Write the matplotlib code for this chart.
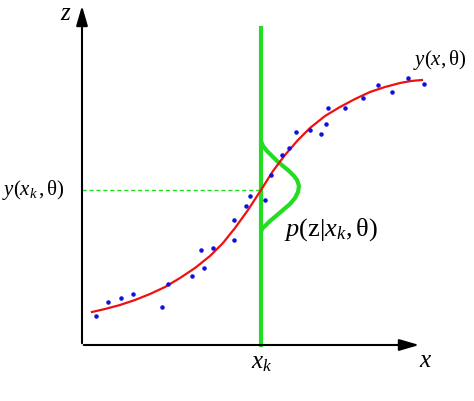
import matplotlib
matplotlib.use("Agg")
import matplotlib.pyplot as plt

plt.rcParams["font.family"] = ["Liberation Serif", "DejaVu Serif"]
plt.rcParams["mathtext.fontset"] = "custom"
plt.rcParams["mathtext.rm"] = "Liberation Serif"
plt.rcParams["mathtext.it"] = "Liberation Serif:italic"

# picture coordinates (pixels, y downwards)
dots_x = [96, 108, 121, 133, 162, 168, 192, 204, 201, 213, 234, 234, 246, 250,
          265, 271, 282, 289, 296, 310, 321, 328, 326, 345, 363, 378, 392, 408, 424]
dots_y = [316, 302, 298, 294, 307, 284, 276, 268, 250, 248, 240, 220, 206, 196,
          200, 175, 155, 148, 132, 130, 134, 108, 124, 108, 98, 85, 92, 78, 84]
curve_x = [92, 105, 120, 135, 150, 165, 180, 195, 210, 223, 235, 248, 261,
           273, 285, 298, 310, 325, 340, 355, 370, 385, 400, 411, 422]
curve_y = [312, 309, 305, 300, 294, 287, 278, 268, 256, 243, 228, 210, 190,
           171, 155, 140, 128, 116, 107, 99, 92, 87, 83, 81, 80]
bump_x = [261, 263, 267, 272, 277, 283, 289, 294, 297, 299, 298, 295, 290, 283, 276, 270, 265, 262, 261]
bump_y = [141, 146, 151, 156, 161, 166, 171, 176, 180, 186, 192, 198, 204, 210, 216, 221, 226, 229, 232]
x_k, y_k = 261, 190

fig = plt.figure(figsize=(4.74, 4.01), dpi=100)
ax = fig.add_axes([0, 0, 1, 1])
ax.set_xlim(0, 474)
ax.set_ylim(401, 0)
ax.axis("off")

ax.annotate("", xy=(82, 3), xytext=(82, 346),
            arrowprops=dict(arrowstyle="-|>,head_width=0.35,head_length=1.2", color="black", lw=1.5))
ax.annotate("", xy=(422, 345), xytext=(81, 345),
            arrowprops=dict(arrowstyle="-|>,head_width=0.35,head_length=1.2", color="black", lw=1.5))

ax.plot([x_k, x_k], [28, 345], color="#22dd22", lw=3)
ax.plot(bump_x, bump_y, color="#22dd22", lw=3, solid_capstyle="round")
ax.plot([82, x_k], [y_k, y_k], color="#22dd22", lw=1, ls="--", dashes=(3, 2))
ax.plot(curve_x, curve_y, color="#ee1111", lw=1.6)
ax.scatter(dots_x, dots_y, s=5, color="#1111dd", zorder=3)

ax.text(66, 14, "$z$", fontsize=18, ha="center", va="center")
ax.text(426, 361, "$x$", fontsize=18, ha="center", va="center")
ax.text(262, 363, "$x_k$", fontsize=18, ha="center", va="center")
ax.text(466, 60, r"$y(x,$θ$)$", fontsize=15, ha="right", va="center")
ax.text(2, 190, r"$y(x_k\,,$θ$)$", fontsize=15, ha="left", va="center")
ax.text(284, 230, r"$p($z$|x_k,$θ$)$", fontsize=19, ha="left", va="center")

fig.savefig("out.png", dpi=100)
